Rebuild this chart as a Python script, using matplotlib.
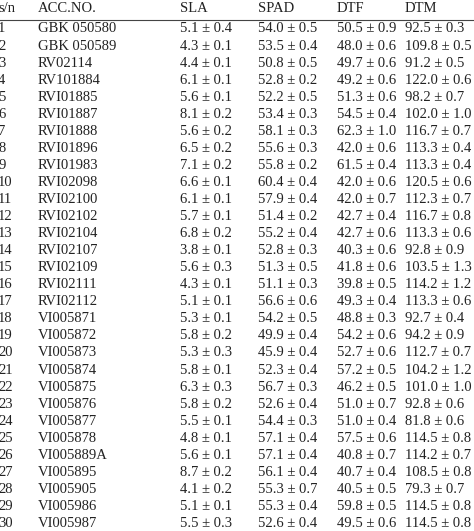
import matplotlib.pyplot as plt

headers = ["s/n", "ACC.NO.", "SLA", "SPAD", "DTF", "DTM"]
acc = ["GBK 050580", "GBK 050589", "RV02114", "RV101884", "RVI01885", "RVI01887",
       "RVI01888", "RVI01896", "RVI01983", "RVI02098", "RVI02100", "RVI02102",
       "RVI02104", "RVI02107", "RVI02109", "RVI02111", "RVI02112", "VI005871",
       "VI005872", "VI005873", "VI005874", "VI005875", "VI005876", "VI005877",
       "VI005878", "VI005889A", "VI005895", "VI005905", "VI005986", "VI005987"]
sla = [(5.1, 0.4), (4.3, 0.1), (4.4, 0.1), (6.1, 0.1), (5.6, 0.1), (8.1, 0.2),
       (5.6, 0.2), (6.5, 0.2), (7.1, 0.2), (6.6, 0.1), (6.1, 0.1), (5.7, 0.1),
       (6.8, 0.2), (3.8, 0.1), (5.6, 0.3), (4.3, 0.1), (5.1, 0.1), (5.3, 0.1),
       (5.8, 0.2), (5.3, 0.3), (5.8, 0.1), (6.3, 0.3), (5.8, 0.2), (5.5, 0.1),
       (4.8, 0.1), (5.6, 0.1), (8.7, 0.2), (4.1, 0.2), (5.1, 0.1), (5.5, 0.3)]
spad = [(54.0, 0.5), (53.5, 0.4), (50.8, 0.5), (52.8, 0.2), (52.2, 0.5), (53.4, 0.3),
        (58.1, 0.3), (55.6, 0.3), (55.8, 0.2), (60.4, 0.4), (57.9, 0.4), (51.4, 0.2),
        (55.2, 0.4), (52.8, 0.3), (51.3, 0.5), (51.1, 0.3), (56.6, 0.6), (54.2, 0.5),
        (49.9, 0.4), (45.9, 0.4), (52.3, 0.4), (56.7, 0.3), (52.6, 0.4), (54.4, 0.3),
        (57.1, 0.4), (57.1, 0.4), (56.1, 0.4), (55.3, 0.7), (55.3, 0.4), (52.6, 0.4)]
dtf = [(50.5, 0.9), (48.0, 0.6), (49.7, 0.6), (49.2, 0.6), (51.3, 0.6), (54.5, 0.4),
       (62.3, 1.0), (42.0, 0.6), (61.5, 0.4), (42.0, 0.6), (42.0, 0.7), (42.7, 0.4),
       (42.7, 0.6), (40.3, 0.6), (41.8, 0.6), (39.8, 0.5), (49.3, 0.4), (48.8, 0.3),
       (54.2, 0.6), (52.7, 0.6), (57.2, 0.5), (46.2, 0.5), (51.0, 0.7), (51.0, 0.4),
       (57.5, 0.6), (40.8, 0.7), (40.7, 0.4), (40.5, 0.5), (59.8, 0.5), (49.5, 0.6)]
dtm = [(92.5, 0.3), (109.8, 0.5), (91.2, 0.5), (122.0, 0.6), (98.2, 0.7), (102.0, 1.0),
       (116.7, 0.7), (113.3, 0.4), (113.3, 0.4), (120.5, 0.6), (112.3, 0.7), (116.7, 0.8),
       (113.3, 0.6), (92.8, 0.9), (103.5, 1.3), (114.2, 1.2), (113.3, 0.6), (92.7, 0.4),
       (94.2, 0.9), (112.7, 0.7), (104.2, 1.2), (101.0, 1.0), (92.8, 0.6), (81.8, 0.6),
       (114.5, 0.8), (114.2, 0.7), (108.5, 0.8), (79.3, 0.7), (114.5, 0.8), (114.5, 0.8)]

W, H = 474, 531
fig = plt.figure(figsize=(W / 100, H / 100), dpi=100)
ax = fig.add_axes([0, 0, 1, 1])
ax.set_xlim(0, W)
ax.set_ylim(H, 0)
ax.axis("off")

font = dict(family="Liberation Serif", fontsize=10.5, va="center", ha="left", color="#222222")
xs = [-2, 38, 180, 258, 337, 405]

for x, h in zip(xs, headers):
    ax.text(x, 9, h, **font)
ax.plot([0, W], [19.5, 19.5], color="#444444", lw=0.8)

def fmt(v):
    return f"{v[0]:.1f} \u00b1 {v[1]:.1f}"

row0, dy = 29, 17.05
for i in range(len(acc)):
    y = row0 + i * dy
    vals = [str(i + 1), acc[i], fmt(sla[i]), fmt(spad[i]), fmt(dtf[i]), fmt(dtm[i])]
    for x, v in zip(xs, vals):
        ax.text(x, y, v, **font)

fig.savefig("out.png", dpi=100, facecolor="white")
